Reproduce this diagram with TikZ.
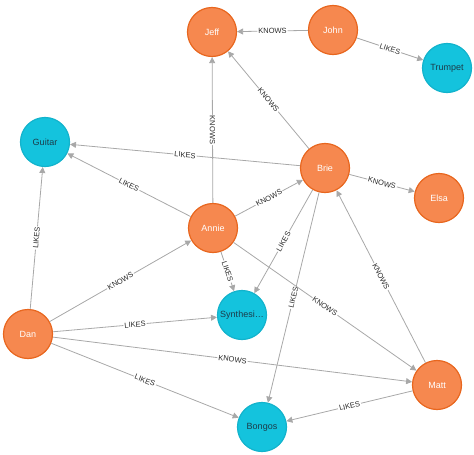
\documentclass[tikz,border=0pt]{standalone}
\usepackage{fontspec}
\setmainfont{Liberation Sans}
\usetikzlibrary{arrows.meta}
\usepackage{xcolor}
\definecolor{Org}   {HTML}{E8661E}
\definecolor{OrgF}  {HTML}{F6884F}
\definecolor{Cyn}   {HTML}{12B3CC}
\definecolor{CynF}  {HTML}{14C3DD}
\definecolor{CynT}  {HTML}{1C3C4A}
\definecolor{LGray} {HTML}{A8A8A8}
\definecolor{DGray} {HTML}{2A2A2A}
\tikzset{
  nd/.style args={#1/#2/#3}{
    circle, draw=#1, fill=#2, text=#3,
    font=\fontsize{9}{10}\selectfont, align=center,
    inner sep=0pt, minimum size=49pt,
    line width=1.2pt,
  },
  arr/.style args={#1}{
    -{Triangle[length=6pt,width=6pt]},
    line width=0.8pt, color=#1,
  },
  lbl/.style={
    font=\fontsize{7.5}{8}\selectfont, text=DGray,
    fill=white, inner sep=1pt, sloped,
  },
}

\begin{document}
\begin{tikzpicture}[x=1pt,y=-1pt]
    \useasboundingbox (0,0) rectangle (474,455);
    % people
    \node[nd=Org/OrgF/white] (jeff)  at (212,32)  {Jeff};
    \node[nd=Org/OrgF/white] (john)  at (333,30)  {John};
    \node[nd=Org/OrgF/white] (brie)  at (325,168) {Brie};
    \node[nd=Org/OrgF/white] (elsa)  at (439,198) {Elsa};
    \node[nd=Org/OrgF/white] (annie) at (213,228) {Annie};
    \node[nd=Org/OrgF/white] (dan)   at (28,334)  {Dan};
    \node[nd=Org/OrgF/white] (matt)  at (437,385) {Matt};
    % instruments
    \node[nd=Cyn/CynF/CynT] (trumpet) at (447,68)  {Trumpet};
    \node[nd=Cyn/CynF/CynT] (guitar)  at (45,142)  {Guitar};
    \node[nd=Cyn/CynF/CynT] (synth)   at (242,315) {Synthesi\ldots};
    \node[nd=Cyn/CynF/CynT] (bongos)  at (262,427) {Bongos};
    % relations
    \draw[arr=LGray] (john)--node[lbl]{KNOWS}(jeff); \draw[arr=LGray] (john)--node[lbl]{LIKES}(trumpet);
    \draw[arr=LGray] (annie)--node[lbl]{KNOWS}(jeff); \draw[arr=LGray] (brie)--node[lbl]{KNOWS}(jeff);
    \draw[arr=LGray] (brie)--node[lbl]{LIKES}(guitar); \draw[arr=LGray] (annie)--node[lbl]{LIKES}(guitar);
    \draw[arr=LGray] (dan)--node[lbl]{LIKES}(guitar); \draw[arr=LGray] (annie)--node[lbl]{KNOWS}(brie);
    \draw[arr=LGray] (brie)--node[lbl]{KNOWS}(elsa); \draw[arr=LGray] (annie)--node[lbl]{LIKES}(synth);
    \draw[arr=LGray] (brie)--node[lbl]{LIKES}(synth); \draw[arr=LGray] (brie)--node[lbl]{LIKES}(bongos);
    \draw[arr=LGray] (annie)--node[lbl]{KNOWS}(matt); \draw[arr=LGray] (matt)--node[lbl]{KNOWS}(brie);
    \draw[arr=LGray] (dan)--node[lbl]{KNOWS}(annie); \draw[arr=LGray] (dan)--node[lbl]{LIKES}(synth);
    \draw[arr=LGray] (dan)--node[lbl]{KNOWS}(matt); \draw[arr=LGray] (dan)--node[lbl]{LIKES}(bongos);
    \draw[arr=LGray] (matt)--node[lbl]{LIKES}(bongos);
  \end{tikzpicture}
\end{document}
